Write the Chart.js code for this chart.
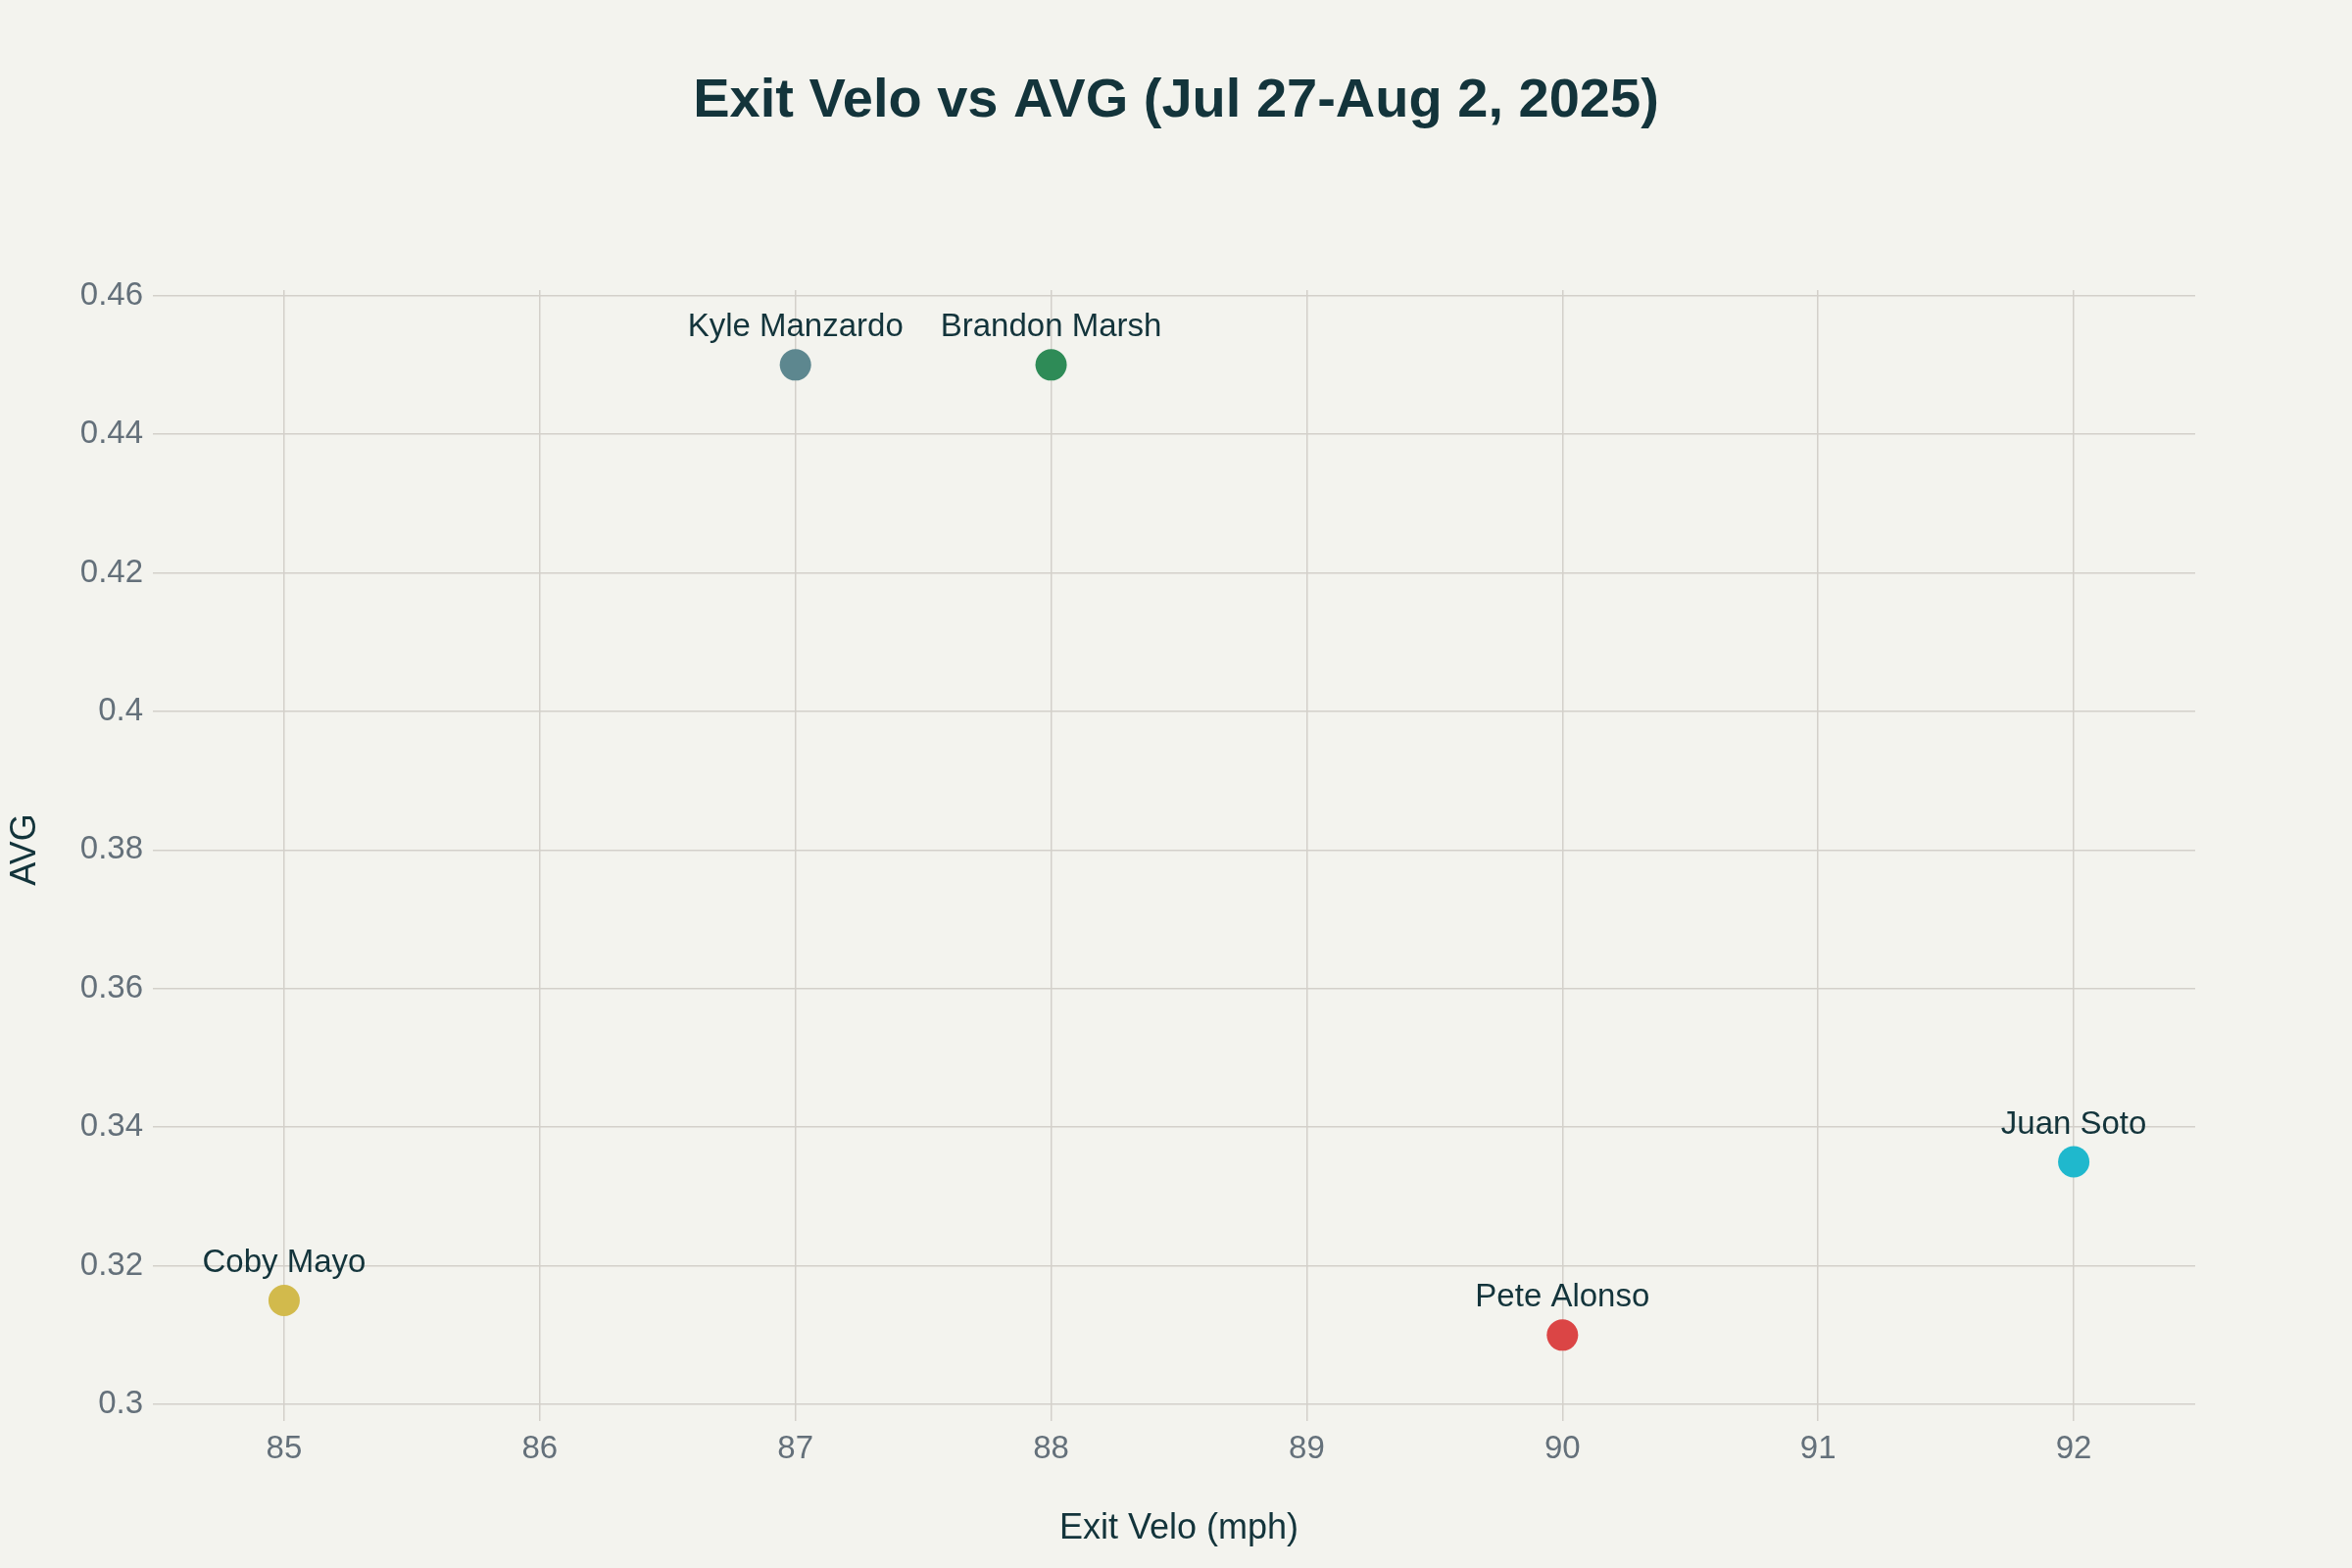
<!DOCTYPE html>
<html>
<head>
<meta charset="utf-8">
<title>Exit Velo vs AVG</title>
<script src="https://cdn.jsdelivr.net/npm/chart.js@4.4.1/dist/chart.umd.min.js"></script>
<style>
  html, body { margin: 0; padding: 0; background: #f3f3ee; }
  #wrap { width: 2400px; height: 1600px; }
</style>
</head>
<body>
<div id="wrap"><canvas id="grafico"></canvas></div>
<script>
const players = ['Juan Soto', 'Pete Alonso', 'Brandon Marsh', 'Kyle Manzardo', 'Coby Mayo'];
const exitVelo = [92, 90, 88, 87, 85];
const avg = [0.335, 0.31, 0.45, 0.45, 0.315];
const xTicks = [85, 86, 87, 88, 89, 90, 91, 92];
const yTicks = [0.3, 0.32, 0.34, 0.36, 0.38, 0.4, 0.42, 0.44, 0.46];
const chartTitle = 'Exit Velo vs AVG (Jul 27-Aug 2, 2025)';

const palette = ['#1FB8CD', '#DB4545', '#2E8B57', '#5D878F', '#D2BA4C'];
const FONT = "'Liberation Sans', Arial, sans-serif";
const gridColor = '#d3d0ca';

Chart.defaults.font.family = FONT;

// titolo centrato sulla pagina + nomi sopra i punti
const pointLabels = {
    id: 'pointLabels',
    afterDatasetsDraw(chart) {
        const ctx = chart.ctx;
        const meta = chart.getDatasetMeta(0);
        ctx.save();
        ctx.fillStyle = '#13343b';
        ctx.textAlign = 'center';

        ctx.font = 'bold 56px ' + FONT;
        ctx.textBaseline = 'alphabetic';
        ctx.fillText(chartTitle, chart.width / 2, 119);

        ctx.font = '33px ' + FONT;
        meta.data.forEach((pt, i) => {
            ctx.fillText(players[i], pt.x, pt.y - 29);
        });
        ctx.restore();
    }
};

new Chart(document.getElementById('grafico'), {
    type: 'scatter',
    data: {
        datasets: [{
            label: 'Players',
            data: exitVelo.map((x, i) => ({ x: x, y: avg[i] })),
            backgroundColor: palette,
            borderWidth: 0,
            pointRadius: 16,
            pointHoverRadius: 16
        }]
    },
    options: {
        responsive: true,
        maintainAspectRatio: false,
        animation: false,
        layout: { padding: { left: 0, right: 160, top: 296, bottom: 0 } },
        plugins: {
            legend: { display: false },
            tooltip: { enabled: false },
            title: { display: false }
        },
        scales: {
            x: {
                type: 'linear',
                min: 84.525,
                max: 92.475,
                afterBuildTicks: s => { s.ticks = xTicks.map(v => ({ value: v })); },
                afterFit: s => { s.height = 162; s.paddingLeft = 0; s.paddingRight = 0; },
                grid: { color: gridColor, lineWidth: 1.5, tickLength: 12, tickColor: gridColor },
                border: { display: false },
                ticks: { color: '#64707a', font: { size: 33 }, padding: 9 },
                title: {
                    display: true,
                    text: 'Exit Velo (mph)',
                    color: '#13343b',
                    font: { size: 36 },
                    padding: { top: 0, bottom: 18 }
                }
            },
            y: {
                type: 'linear',
                min: 0.2993,
                max: 0.4608,
                afterBuildTicks: s => { s.ticks = yTicks.map(v => ({ value: v })); },
                afterFit: s => { s.width = 166; s.paddingTop = 0; s.paddingBottom = 0; },
                grid: { color: gridColor, lineWidth: 1.5, tickLength: 10, tickColor: gridColor },
                border: { display: false },
                ticks: {
                    color: '#64707a',
                    font: { size: 33 },
                    padding: 10,
                    callback: v => String(+v.toFixed(2))
                },
                title: {
                    display: true,
                    text: 'AVG',
                    color: '#13343b',
                    font: { size: 36 },
                    padding: { top: 4, bottom: 0 }
                }
            }
        }
    },
    plugins: [pointLabels]
});
</script>
</body>
</html>
